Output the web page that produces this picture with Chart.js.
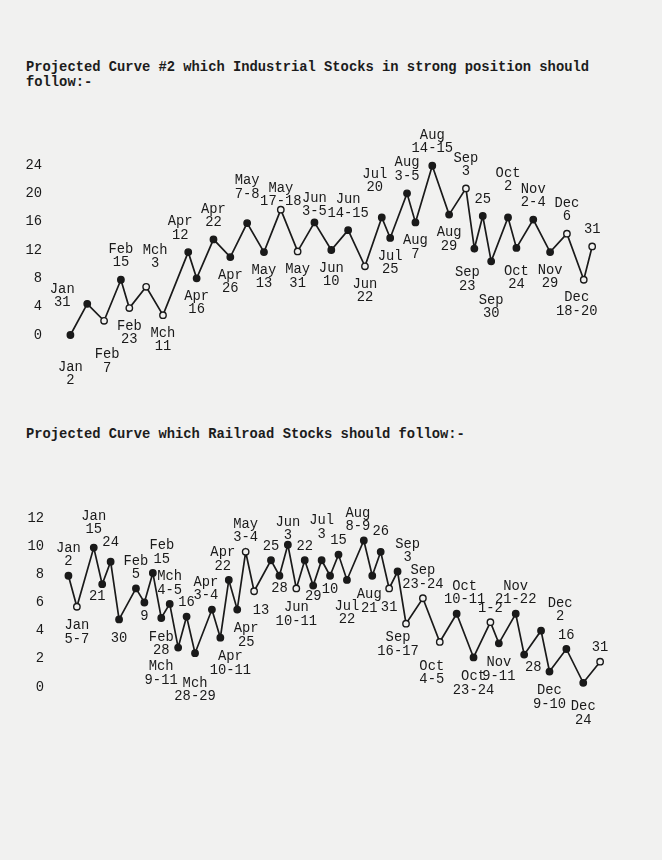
<!DOCTYPE html>
<html>
<head>
<meta charset="utf-8">
<title>Projected Curves</title>
<script src="https://cdn.jsdelivr.net/npm/chart.js@4.4.1/dist/chart.umd.min.js"></script>
<style>
  html, body { margin: 0; padding: 0; background: #f1f1f0; }
  body { width: 662px; height: 860px; position: relative; overflow: hidden; }
  .title {
    position: absolute; left: 26px; color: #1c1c1c; white-space: pre;
    font: bold 13.8px "Liberation Mono", monospace; line-height: 15px;
  }
  canvas { position: absolute; left: 0; }
</style>
</head>
<body>
<div class="title" style="top:60px">Projected Curve #2 which Industrial Stocks in strong position should
follow:-</div>
<div class="title" style="top:427px">Projected Curve which Railroad Stocks should follow:-</div>
<canvas id="industrial" width="662" height="420" style="top:0"></canvas>
<canvas id="railroad" width="662" height="440" style="top:420px"></canvas>
<script>
// Industrial stocks: typewriter column of each turn, value, label
const indSlots = [0, 2, 4, 6, 7, 9, 11, 14, 15, 17, 19, 21, 23, 25, 27, 29, 31, 33, 35, 37, 38, 40, 41, 43, 45, 47, 48, 49, 50, 52, 53, 55, 57, 59, 61, 62];
const indValues = [0, 4.4, 2.0, 7.8, 3.8, 6.8, 2.8, 11.7, 8.0, 13.5, 11.0, 15.8, 11.7, 17.7, 11.8, 15.9, 12.0, 14.8, 9.7, 16.6, 13.7, 20.0, 15.9, 23.9, 17.0, 20.7, 12.2, 16.8, 10.4, 16.6, 12.3, 16.3, 11.7, 14.3, 7.8, 12.5];
const indLabels = ['Jan\n2', 'Jan\n31', 'Feb\n7', 'Feb\n15', 'Feb\n23', 'Mch\n3', 'Mch\n11', 'Apr\n12', 'Apr\n16', 'Apr\n22', 'Apr\n26', 'May\n7-8', 'May\n13', 'May\n17-18', 'May\n31', 'Jun\n3-5', 'Jun\n10', 'Jun\n14-15', 'Jun\n22', 'Jul\n20', 'Jul\n25', 'Aug\n3-5', 'Aug\n7', 'Aug\n14-15', 'Aug\n29', 'Sep\n3', 'Sep\n23', '25', 'Sep\n30', 'Oct\n2', 'Oct\n24', 'Nov\n2-4', 'Nov\n29', 'Dec\n6', 'Dec\n18-20', '31'];
const indOpen = [2, 4, 5, 6, 13, 14, 18, 25, 33, 34, 35];
const indTicks = [0, 4, 8, 12, 16, 20, 24];

// Railroad stocks
const railSlots = [0, 1, 3, 4, 5, 6, 8, 9, 10, 11, 12, 13, 14, 15, 17, 18, 19, 20, 21, 22, 24, 25, 26, 27, 28, 29, 30, 31, 32, 33, 35, 36, 37, 38, 39, 40, 42, 44, 46, 48, 50, 51, 53, 54, 56, 57, 59, 61, 63];
const railValues = [7.9, 5.7, 9.9, 7.3, 8.9, 4.8, 7.0, 6.0, 8.1, 4.9, 5.9, 2.8, 5.0, 2.4, 5.5, 3.5, 7.6, 5.5, 9.6, 6.8, 9.0, 7.9, 10.1, 7.0, 9.0, 7.2, 9.0, 7.9, 9.4, 7.6, 10.4, 7.9, 9.6, 7.0, 8.2, 4.5, 6.3, 3.2, 5.2, 2.1, 4.6, 3.1, 5.2, 2.3, 4.0, 1.1, 2.7, 0.3, 1.8];
const railLabels = ['Jan\n2', 'Jan\n5-7', 'Jan\n15', '21', '24', '30', 'Feb\n5', '9', 'Feb\n15', 'Feb\n28', 'Mch\n4-5', 'Mch\n9-11', '16', 'Mch\n28-29', 'Apr\n3-4', 'Apr\n10-11', 'Apr\n22', 'Apr\n25', 'May\n3-4', '13', '25', '28', 'Jun\n3', 'Jun\n10-11', '22', '29', 'Jul\n3', '10', '15', 'Jul\n22', 'Aug\n8-9', 'Aug\n21', '26', '31', 'Sep\n3', 'Sep\n16-17', 'Sep\n23-24', 'Oct\n4-5', 'Oct\n10-11', 'Oct\n23-24', '1-2', 'Nov\n9-11', 'Nov\n21-22', '28', 'Dec\n2', 'Dec\n9-10', '16', 'Dec\n24', '31'];
const railOpen = [1, 18, 19, 23, 33, 35, 36, 37, 40, 48];
const railTicks = [0, 2, 4, 6, 8, 10, 12];

const ink = '#1a1a1a';
const paper = '#f1f1f0';
const typeFont = '"Liberation Mono", monospace';

// hand nudges for labels the typist moved aside [dx, dy]
const indShift = {0: [0, 14], 1: [-25, 16], 2: [3, 16], 5: [9, -6], 7: [-8, 0], 11: [0, -12], 13: [0, 9],
  15: [0, 6], 19: [-7, -13], 26: [-7, 6], 28: [0, 21], 29: [0, -14], 30: [0, 5], 34: [-7, 0]};
const railShift = {2: [0, -4], 3: [-5, -7], 4: [0, -5], 7: [0, -5], 8: [9, 0], 11: [-17, 0], 13: [0, 11],
  14: [-6, 0], 15: [10, 0], 16: [-6, 0], 17: [9, 0], 19: [7, 0], 21: [0, -6], 22: [0, 5], 25: [0, -8],
  26: [0, -12], 27: [0, -5], 29: [0, 7], 30: [-6, 0], 31: [-3, 0], 32: [0, -6], 34: [10, 0], 35: [-8, -5],
  37: [-8, 5], 38: [8, 0], 43: [9, -6], 44: [19, 0], 47: [0, 5]};

// write each date above a peak or below a trough
const pointLabels = {
  id: 'pointLabels',
  afterDatasetsDraw(chart, args, opts) {
    const ctx = chart.ctx;
    const pts = chart.getDatasetMeta(0).data;
    const vals = chart.data.datasets[0].data.map(d => d.y);
    ctx.save();
    ctx.font = '13.8px ' + typeFont;
    ctx.fillStyle = ink;
    ctx.textAlign = 'center';
    ctx.textBaseline = 'middle';
    pts.forEach((p, i) => {
      const lines = opts.labels[i].split('\n');
      const prev = i > 0 ? vals[i - 1] : -Infinity;
      const next = i < vals.length - 1 ? vals[i + 1] : -Infinity;
      const peak = vals[i] >= prev && vals[i] >= next;
      const [dx, dy] = opts.shift[i] || [0, 0];
      const n = lines.length;
      lines.forEach((t, k) => {
        const y = peak
          ? p.y - opts.gapAbove - (n - 1 - k) * opts.lineHeight
          : p.y + opts.gapBelow + k * opts.lineHeight;
        ctx.fillText(t, p.x + dx, y + dy);
      });
    });
    ctx.restore();
  }
};

function makeChart(id, slots, values, labels, open, ticks, cfg) {
  const fills = values.map((v, i) => open.includes(i) ? paper : ink);
  return new Chart(document.getElementById(id), {
    type: 'line',
    data: {
      datasets: [{
        data: slots.map((s, i) => ({x: s, y: values[i]})),
        borderColor: ink,
        borderWidth: 1.7,
        tension: 0,
        pointRadius: 3.2,
        pointBorderWidth: 1.4,
        pointBorderColor: ink,
        pointBackgroundColor: fills
      }]
    },
    options: {
      responsive: false,
      animation: false,
      devicePixelRatio: 1,
      layout: {padding: {left: 0, right: cfg.padRight, top: cfg.padTop, bottom: cfg.padBottom}},
      plugins: {
        legend: {display: false},
        tooltip: {enabled: false},
        pointLabels: {labels: labels, shift: cfg.shift, gapAbove: cfg.gapAbove, gapBelow: cfg.gapBelow, lineHeight: 13.5}
      },
      scales: {
        x: {type: 'linear', min: cfg.xMin, max: cfg.xMax, display: false},
        y: {
          min: cfg.yMin,
          max: cfg.yMax,
          grid: {display: false, drawTicks: false},
          border: {display: false},
          ticks: {color: ink, font: {family: typeFont, size: 13.8}, padding: cfg.tickPad},
          afterBuildTicks: (scale) => { scale.ticks = ticks.map(v => ({value: v})); },
          afterFit: (scale) => { scale.width = cfg.axisWidth; }
        }
      }
    },
    plugins: [pointLabels]
  });
}

makeChart('industrial', indSlots, indValues, indLabels, indOpen, indTicks, {
  xMin: -1, xMax: 64, yMin: -4, yMax: 28,
  axisWidth: 62, padRight: 53, padTop: 136.7, padBottom: 56.7, tickPad: 20,
  gapAbove: 17, gapBelow: 18, shift: indShift
});

makeChart('railroad', railSlots, railValues, railLabels, railOpen, railTicks, {
  xMin: -1, xMax: 65, yMin: -2, yMax: 14,
  axisWidth: 60, padRight: 45, padTop: 69.8, padBottom: 144.8, tickPad: 16,
  gapAbove: 14, gapBelow: 19, shift: railShift
});
</script>
</body>
</html>
